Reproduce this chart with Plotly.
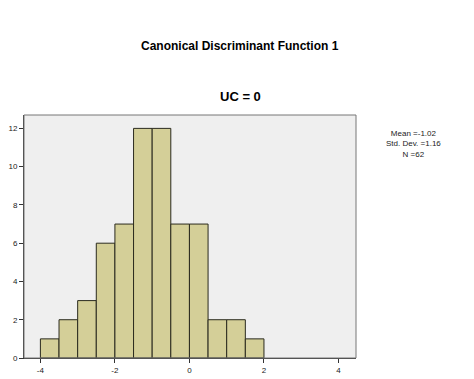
import plotly.graph_objects as go

bin_starts = [-4.0, -3.5, -3.0, -2.5, -2.0, -1.5, -1.0, -0.5, 0.0, 0.5, 1.0, 1.5]
counts = [1, 2, 3, 6, 7, 12, 12, 7, 7, 2, 2, 1]
bin_width = 0.5
x_ticks = [-4, -2, 0, 2, 4]
y_ticks = [0, 2, 4, 6, 8, 10, 12]
stats_text = "Mean =-1.02<br>Std. Dev. =1.16<br>N =62"

centers = [b + bin_width / 2 for b in bin_starts]

fig = go.Figure(go.Bar(
    x=centers, y=counts, width=[bin_width] * len(counts),
    marker=dict(color="#D4CF98", line=dict(color="#2A2A1E", width=1)),
))

L, R, T, B = 24, 356, 115, 358
W, H = 474, 379

fig.update_layout(
    template="none",
    width=W, height=H,
    margin=dict(l=L, r=W - R, t=T, b=H - B, pad=0),
    paper_bgcolor="white", plot_bgcolor="#EFEFEF",
    showlegend=False,
    font=dict(family="Arial, Liberation Sans, sans-serif", size=8, color="#222"),
    xaxis=dict(range=[-4.44, 4.47], tickvals=x_ticks, ticktext=[str(v) for v in x_ticks],
               showgrid=False, zeroline=False, showline=True, linecolor="#333", linewidth=1,
               ticks="outside", ticklen=4, tickcolor="#333", automargin=False),
    yaxis=dict(range=[0, 12.7], tickvals=y_ticks, showgrid=False, zeroline=False,
               showline=True, linecolor="#333", linewidth=1,
               ticks="outside", ticklen=4, tickcolor="#333", automargin=False),
    shapes=[dict(type="rect", xref="paper", yref="paper", x0=0, y0=0, x1=1, y1=1,
                 line=dict(color="#777", width=1))],
)

pw = R - L
ph = B - T
def px(x): return (x - L) / pw
def py(y): return (B - y) / ph

fig.update_layout(annotations=[
    dict(text="<b>Canonical Discriminant Function 1</b>", xref="paper", yref="paper",
         x=px(240), y=py(46), xanchor="center", yanchor="middle", showarrow=False,
         font=dict(size=12, color="black")),
    dict(text="<b>UC = 0</b>", xref="paper", yref="paper",
         x=px(240), y=py(97), xanchor="center", yanchor="middle", showarrow=False,
         font=dict(size=13, color="black")),
    dict(text=stats_text, xref="paper", yref="paper",
         x=px(413), y=py(144), xanchor="center", yanchor="middle", showarrow=False,
         align="center", font=dict(size=8, color="#222")),
])

fig.write_html("out.html", config={"displayModeBar": False},
               post_script="document.body.style.margin='0';")
